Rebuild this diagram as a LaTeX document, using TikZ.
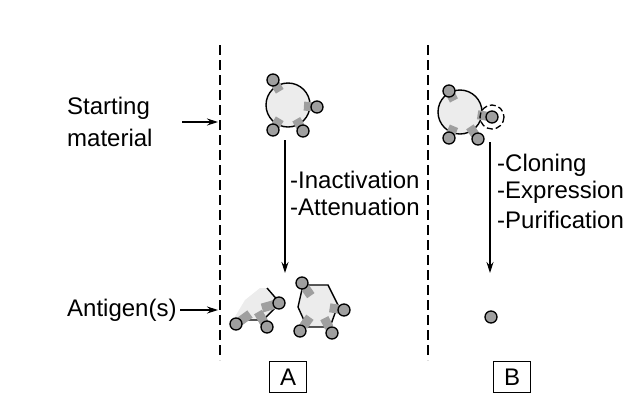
\documentclass[tikz,border=0pt]{standalone}
\usepackage{fontspec}
\setmainfont{Liberation Sans}
\usetikzlibrary{arrows.meta,calc}
\begin{document}
\begin{tikzpicture}[x=1pt,y=-1pt,
 lbl/.style={anchor=west,inner sep=0pt,font=\fontsize{24}{28}\selectfont},
 ball/.style={circle,draw,fill=gray!75,line width=1.3pt,minimum size=12pt,inner sep=0pt},
 stub/.style={line width=9pt,draw=gray!75},
 body/.style={draw,fill=gray!15,line width=1.4pt},
 arr/.style={-{Stealth[length=11pt,width=7pt]},line width=1.2pt},
 dl/.style={dashed,dash pattern=on 10pt off 5pt,line width=1.4pt}]
\useasboundingbox (0,0) rectangle (629,416);
\coordinate (d1t) at (220,45); \coordinate (d1b) at (220,360);
\coordinate (d2t) at (428,45); \coordinate (d2b) at (428,360);
\draw[dl] (d1t)--(d1b); \draw[dl] (d2t)--(d2b);
\node[lbl] (sm1) at (67,108) {Starting};
\node[lbl] (sm2) at (67,138) {material};
\coordinate (sa) at (182,122); \coordinate (sb) at (218,122);
\draw[arr] (sa)--(sb);
\node[lbl] (ag) at (67,310) {Antigen(s)};
\coordinate (aa) at (180,310); \coordinate (ab) at (218,310);
\draw[arr] (aa)--(ab);
% virus A
\draw[body] (288,105) circle (22);
\foreach \a/\b in {273/80,317/107,273/130,303/131} {
 \draw[stub] ($(288,105)!0.55!(\a,\b)$) -- ($(288,105)!0.85!(\a,\b)$);}
\foreach \a/\b in {273/80,317/107,273/130,303/131} \node[ball] at (\a,\b) {};
% virus B
\draw[body] (460,112) circle (22);
\foreach \a/\b in {449/91,492/117,449/138,478/139} {
 \draw[stub] ($(460,112)!0.55!(\a,\b)$) -- ($(460,112)!0.85!(\a,\b)$);}
\foreach \a/\b in {449/91,449/138,478/139} \node[ball] at (\a,\b) {};
\node[ball] (cb) at (492,117) {};
\draw[dashed,dash pattern=on 6pt off 3pt,line width=1.3pt] (cb) circle (12);
% arrows
\coordinate (a1) at (285,140); \coordinate (a2) at (285,273);
\draw[arr] (a1)--(a2);
\node[lbl] (l1) at (290,180) {-Inactivation};
\node[lbl] (l2) at (290,207) {-Attenuation};
\coordinate (b1) at (490,142); \coordinate (b2) at (490,273);
\draw[arr] (b1)--(b2);
\node[lbl] (l3) at (497,165) {-Cloning};
\node[lbl] (l4) at (497,192) {-Expression};
\node[lbl] (l5) at (497,220) {-Purification};
\node[ball] (db) at (491,317) {};
% fragments A
\fill[gray!15] (260,288)--(267,288)--(280,303)--(263,320)--(233,320)--(245,300)--cycle;
\draw[line width=1.4pt] (267,288)--(280,303)--(263,320)--(233,320);
\draw[stub] (262,308)--(276,304);
\draw[stub] (258,312)--(265,324);
\draw[stub] (250,314)--(239,322);
\foreach \a/\b in {236/324,267/327,279/303} \node[ball] at (\a,\b) {};
\draw[body] (303,285)--(328,285)--(338,305)--(330,327)--(307,327)--(298,307)--cycle;
\foreach \a/\b in {302/283,344/310,300/331,332/333} \draw[stub] ($(318,306)!0.45!(\a,\b)$)--($(318,306)!0.8!(\a,\b)$);
\foreach \a/\b in {302/283,344/310,300/331,332/333} \node[ball] at (\a,\b) {};
% boxes
\node[draw,line width=1.3pt,minimum width=37pt,minimum height=31pt,inner sep=0pt,font=\fontsize{24}{28}\selectfont] (bA) at (288,377) {A};
\node[draw,line width=1.3pt,minimum width=37pt,minimum height=31pt,inner sep=0pt,font=\fontsize{24}{28}\selectfont] (bB) at (512,377) {B};
\end{tikzpicture}
\end{document}
